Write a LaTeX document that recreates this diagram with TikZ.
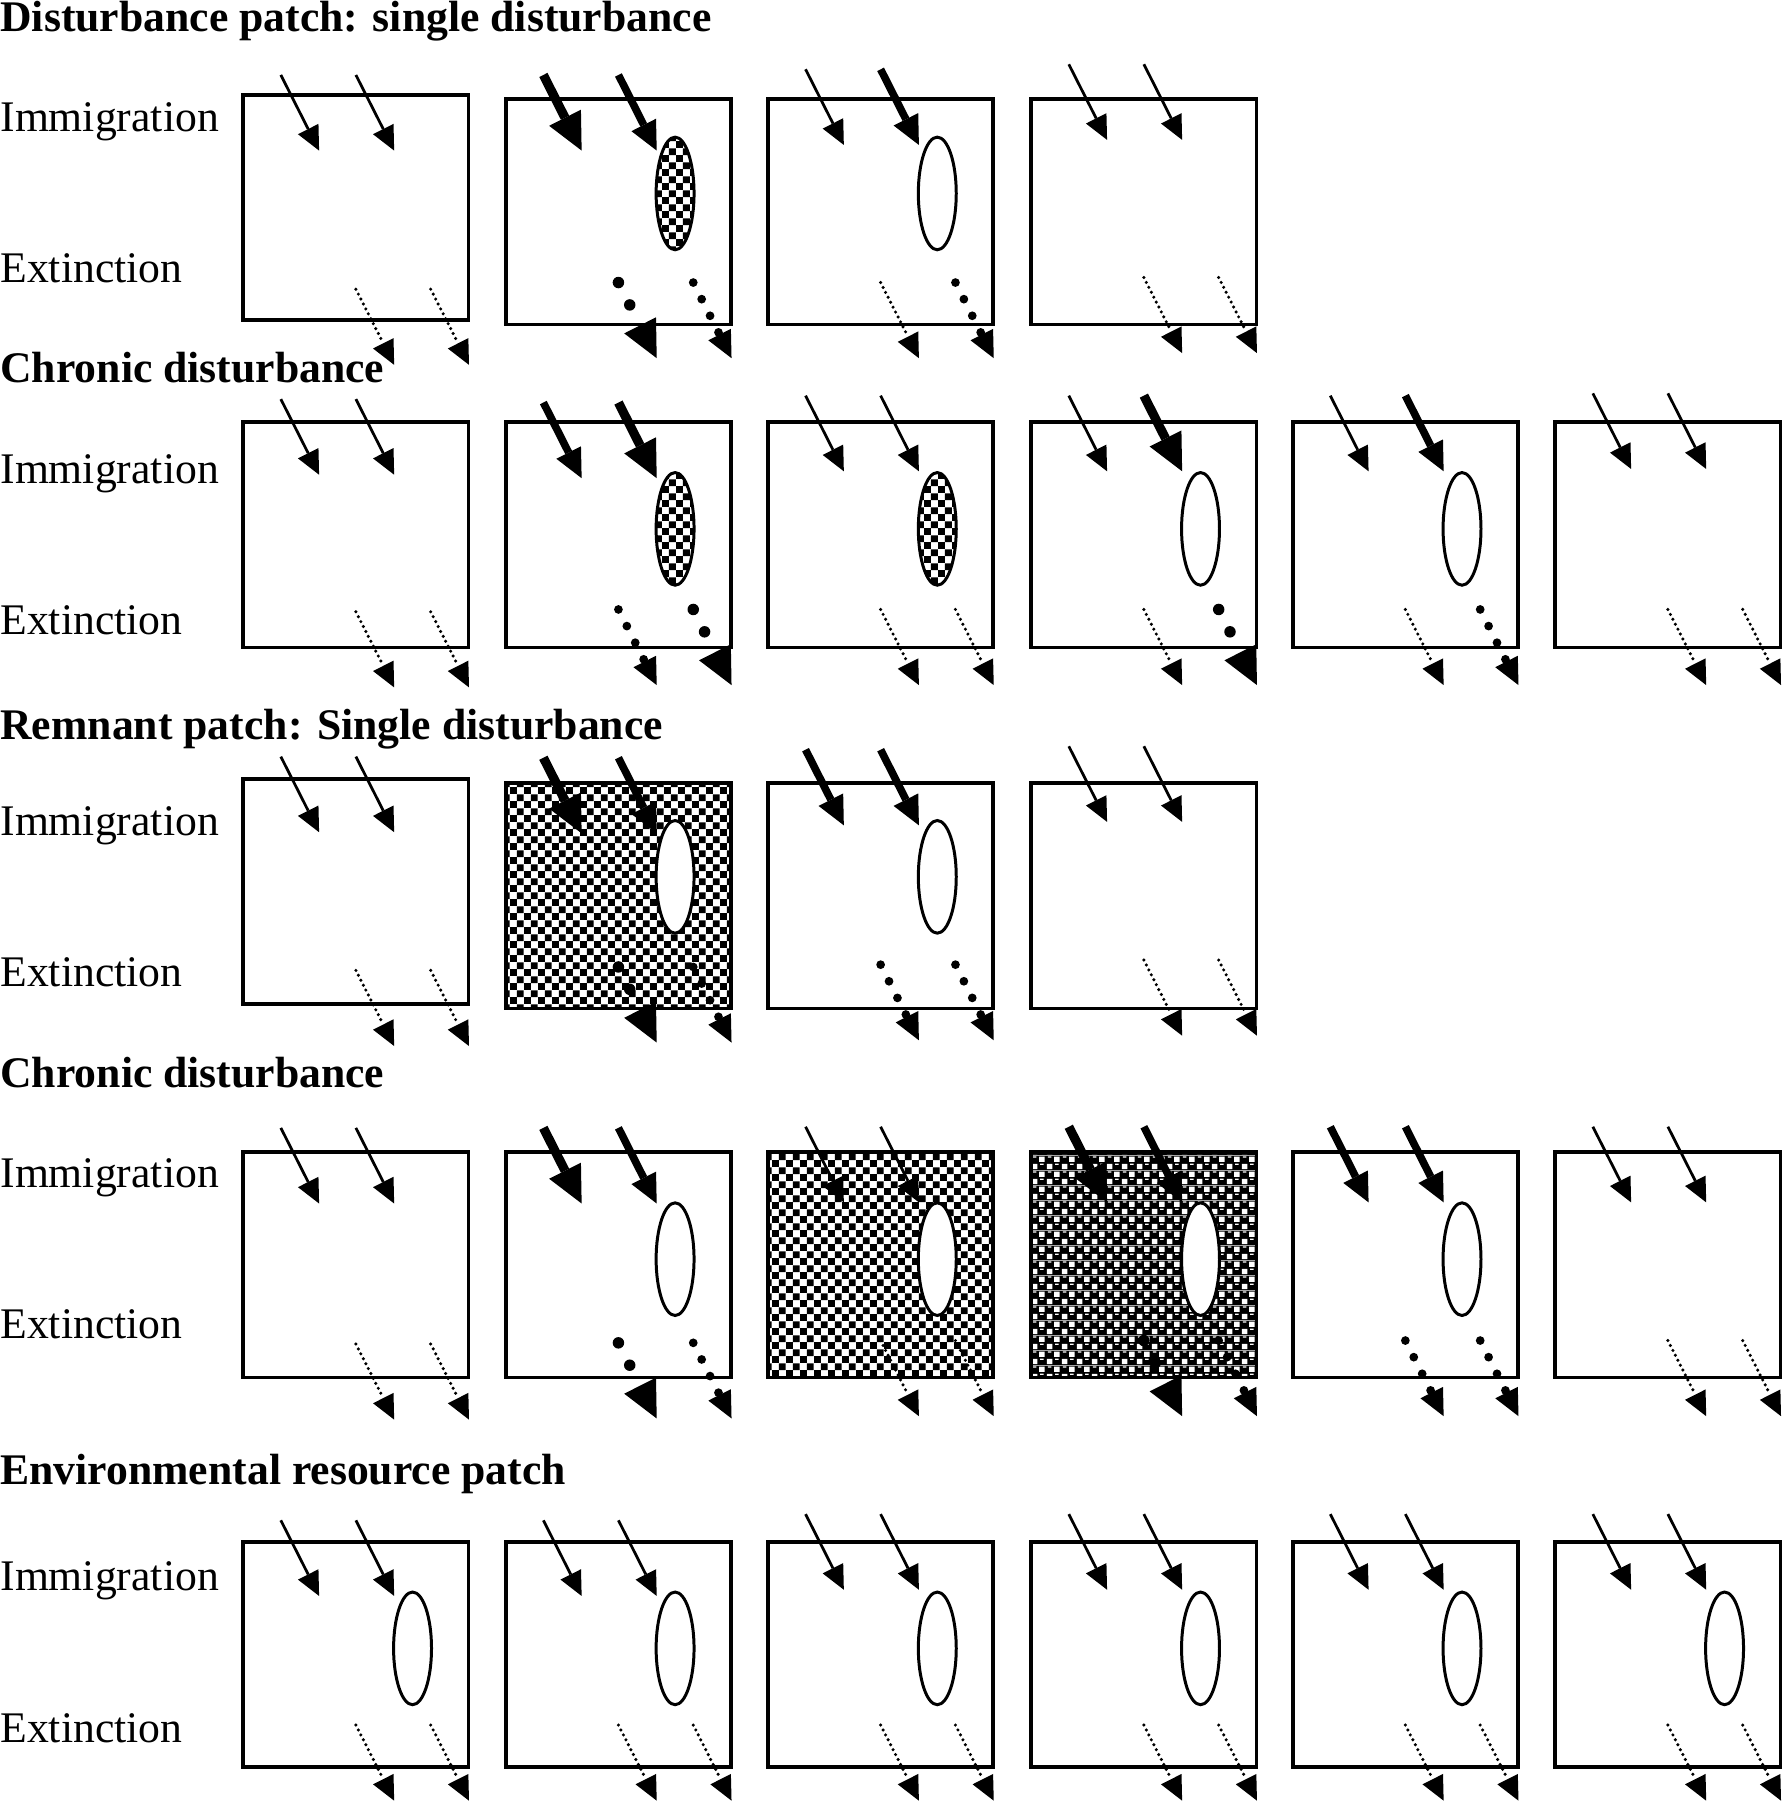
\documentclass[tikz,border=0pt]{standalone}
\usepackage{fontspec}
\setmainfont{Liberation Serif}
\usetikzlibrary{arrows.meta,calc,patterns,shapes.geometric}

\pgfdeclarepatternformonly{chk}{\pgfqpoint{0pt}{0pt}}{\pgfqpoint{6pt}{6pt}}{\pgfqpoint{6pt}{6pt}}{%
  \pgfpathrectangle{\pgfqpoint{0pt}{0pt}}{\pgfqpoint{3pt}{3pt}}%
  \pgfpathrectangle{\pgfqpoint{3pt}{3pt}}{\pgfqpoint{3pt}{3pt}}%
  \pgfusepath{fill}}

\pgfdeclarepatterninherentlycolored{coarse}{\pgfqpoint{0pt}{0pt}}{\pgfqpoint{6.6pt}{6.6pt}}{\pgfqpoint{6.6pt}{6.6pt}}{%
  \pgfsetfillcolor{black}%
  \pgfpathrectangle{\pgfqpoint{0pt}{0pt}}{\pgfqpoint{6.6pt}{6.6pt}}\pgfusepath{fill}%
  \pgfsetfillcolor{white}%
  \pgfpathrectangle{\pgfqpoint{0.4pt}{0.45pt}}{\pgfqpoint{2.5pt}{2.4pt}}%
  \pgfpathrectangle{\pgfqpoint{3.7pt}{3.75pt}}{\pgfqpoint{2.5pt}{2.4pt}}%
  \pgfpathrectangle{\pgfqpoint{4.15pt}{2.35pt}}{\pgfqpoint{1.6pt}{0.6pt}}%
  \pgfpathrectangle{\pgfqpoint{0.85pt}{5.65pt}}{\pgfqpoint{1.6pt}{0.6pt}}%
  \pgfusepath{fill}}

\tikzset{
  patchbox/.style={draw, line width=1.6pt, minimum size=98pt, inner sep=0pt, outer sep=0pt},
  chkfill/.style={preaction={fill=white}, pattern=chk},
  coarsefill/.style={pattern=coarse},
  wellipse/.style={ellipse, draw, line width=1.3pt, minimum width=16.5pt, minimum height=49pt, inner sep=0pt, fill=white},
  cellipse/.style={ellipse, draw, line width=1.3pt, minimum width=16.5pt, minimum height=49pt, inner sep=0pt, preaction={fill=white}, pattern=chk},
  immthin/.style={line width=1.2pt, -{Triangle[length=10.5pt,width=10pt,line width=0pt]}},
  immthickA/.style={line width=4pt, -{Triangle[length=16pt,width=15.5pt,line width=0pt]}},
  immthickB/.style={line width=3.3pt, -{Triangle[length=12.5pt,width=12pt,line width=0pt]}},
  extdots/.style={line width=1.5pt, line cap=round, dash pattern=on 0pt off 2.4pt, -{Triangle[length=10.5pt,width=10pt,line width=0pt]}},
  extmed/.style={line width=3.8pt, line cap=round, dash pattern=on 0pt off 8.1pt, -{Triangle[length=11.5pt,width=11pt,line width=0pt]}},
  extbig/.style={line width=5pt, line cap=round, dash pattern=on 0pt off 10.9pt, -{Triangle[length=16pt,width=15.5pt,line width=0pt]}},
  lab/.style={anchor=base west, inner sep=0pt, font=\fontsize{19pt}{22pt}\selectfont},
  ttl/.style={anchor=base west, inner sep=0pt, font=\fontsize{19pt}{22pt}\selectfont\bfseries},
}

% box: name, left, top, fill style
\newcommand\Cell[4]{\node[patchbox,#4] (#1) at ({#2+98},{#3+98}) {};}
% immigration arrows: name, left, tip y, style 1, style 2
\newcommand\Imm[5]{%
  \coordinate (#1-iae) at ({#2+66},#3);
  \coordinate (#1-ias) at ($(#1-iae)+(-33.3,-65.8)$);
  \coordinate (#1-ibe) at ({#2+131.3},#3);
  \coordinate (#1-ibs) at ($(#1-ibe)+(-33.3,-65.8)$);
  \draw[#4] (#1-ias) -- (#1-iae);
  \draw[#5] (#1-ibs) -- (#1-ibe);}
% extinction arrows: name, left, tip y, style 1, style 2
\newcommand\Ext[5]{%
  \coordinate (#1-eae) at ({#2+131.3},#3);
  \coordinate (#1-eas) at ($(#1-eae)+(-33.3,-65.8)$);
  \coordinate (#1-ebe) at ({#2+196.4},#3);
  \coordinate (#1-ebs) at ($(#1-ebe)+(-33.3,-65.8)$);
  \draw[#4] (#1-eas) -- (#1-eae);
  \draw[#5] (#1-ebs) -- (#1-ebe);}
% ellipse: name, left, centre y, style
\newcommand\Ell[4]{\node[#4] (#1-el) at ({#2+147.3},#3) {};}

\begin{document}
\begin{tikzpicture}[x=0.5pt,y=-0.5pt]
\useasboundingbox (0,0) rectangle (1552,1569.4);
\fill[white] (0,0) rectangle (1552,1569.4);

% ---------- labels ----------
\node[ttl] (t1) at (0,27.5) {Disturbance patch: single disturbance};
\node[ttl] (t2) at (0,333) {Chronic disturbance};
\node[ttl] (t3) at (0,643) {Remnant patch: Single disturbance};
\node[ttl] (t4) at (0,946) {Chronic disturbance};
\node[ttl] (t5) at (0,1291.3) {Environmental resource patch};

\node[lab] (im1) at (0,114.5) {Immigration};
\node[lab] (ex1) at (0,245.8) {Extinction};
\node[lab] (im2) at (0,421) {Immigration};
\node[lab] (ex2) at (0,552) {Extinction};
\node[lab] (im3) at (0,727) {Immigration};
\node[lab] (ex3) at (0,858) {Extinction};
\node[lab] (im4) at (0,1033) {Immigration};
\node[lab] (ex4) at (0,1164) {Extinction};
\node[lab] (im5) at (0,1384) {Immigration};
\node[lab] (ex5) at (0,1516) {Extinction};

% ---------- row 1 ----------
\Cell{a1}{211.6}{82.6}{}
\Imm{a1}{211.6}{131}{immthin}{immthin}
\Ext{a1}{211.6}{317.4}{extdots}{extdots}

\Cell{a2}{440}{86.4}{}
\Ell{a2}{440}{168.3}{cellipse}
\Imm{a2}{440}{131}{immthickA}{immthickB}
\Ext{a2}{440}{311.6}{extbig}{extmed}

\Cell{a3}{668.1}{86.4}{}
\Ell{a3}{668.1}{168.3}{wellipse}
\Imm{a3}{668.1}{126.1}{immthin}{immthickB}
\Ext{a3}{668.1}{311.6}{extdots}{extmed}

\Cell{a4}{897.1}{86.4}{}
\Imm{a4}{897.1}{121.7}{immthin}{immthin}
\Ext{a4}{897.1}{307.2}{extdots}{extdots}

% ---------- row 2 ----------
\Cell{b1}{211.6}{367.2}{}
\Imm{b1}{211.6}{413}{immthin}{immthin}
\Ext{b1}{211.6}{598}{extdots}{extdots}

\Cell{b2}{440}{367.2}{}
\Ell{b2}{440}{460.1}{cellipse}
\Imm{b2}{440}{416}{immthickB}{immthickA}
\Ext{b2}{440}{596}{extmed}{extbig}

\Cell{b3}{668.1}{367.2}{}
\Ell{b3}{668.1}{460.1}{cellipse}
\Imm{b3}{668.1}{410}{immthin}{immthin}
\Ext{b3}{668.1}{596}{extdots}{extdots}

\Cell{b4}{897.1}{367.2}{}
\Ell{b4}{897.1}{460.1}{wellipse}
\Imm{b4}{897.1}{410}{immthin}{immthickA}
\Ext{b4}{897.1}{596}{extdots}{extbig}

\Cell{b5}{1124.6}{367.2}{}
\Ell{b5}{1124.6}{460.1}{wellipse}
\Imm{b5}{1124.6}{410}{immthin}{immthickB}
\Ext{b5}{1124.6}{596}{extdots}{extmed}

\Cell{b6}{1353}{367.2}{}
\Imm{b6}{1353}{408}{immthin}{immthin}
\Ext{b6}{1353}{596}{extdots}{extdots}

% ---------- row 3 ----------
\Cell{c1}{211.6}{677.5}{}
\Imm{c1}{211.6}{724}{immthin}{immthin}
\Ext{c1}{211.6}{910}{extdots}{extdots}

\Cell{c2}{440}{681.2}{chkfill}
\Ell{c2}{440}{762.8}{wellipse}
\Imm{c2}{440}{725}{immthickA}{immthickB}
\Ext{c2}{440}{907}{extbig}{extmed}

\Cell{c3}{668.1}{681.2}{}
\Ell{c3}{668.1}{762.8}{wellipse}
\Imm{c3}{668.1}{718}{immthickB}{immthickB}
\Ext{c3}{668.1}{905}{extmed}{extmed}

\Cell{c4}{897.1}{681.2}{}
\Imm{c4}{897.1}{715}{immthin}{immthin}
\Ext{c4}{897.1}{901}{extdots}{extdots}

% ---------- row 4 ----------
\Cell{d1}{211.6}{1002.3}{}
\Imm{d1}{211.6}{1047}{immthin}{immthin}
\Ext{d1}{211.6}{1235}{extdots}{extdots}

\Cell{d2}{440}{1002.3}{}
\Ell{d2}{440}{1095.4}{wellipse}
\Imm{d2}{440}{1047}{immthickA}{immthickB}
\Ext{d2}{440}{1234}{extbig}{extmed}

\Cell{d3}{668.1}{1002.3}{chkfill}
\Ell{d3}{668.1}{1095.4}{wellipse}
\Imm{d3}{668.1}{1046}{immthin}{immthin}
\Ext{d3}{668.1}{1232}{extdots}{extdots}

\Cell{d4}{897.1}{1002.3}{coarsefill}
\Ell{d4}{897.1}{1095.4}{wellipse}
\Imm{d4}{897.1}{1046}{immthickA}{immthickB}
\Ext{d4}{897.1}{1232}{extbig}{extmed}

\Cell{d5}{1124.6}{1002.3}{}
\Ell{d5}{1124.6}{1095.4}{wellipse}
\Imm{d5}{1124.6}{1046}{immthickB}{immthickB}
\Ext{d5}{1124.6}{1232}{extmed}{extmed}

\Cell{d6}{1353}{1002.3}{}
\Imm{d6}{1353}{1046}{immthin}{immthin}
\Ext{d6}{1353}{1232}{extdots}{extdots}

% ---------- row 5 ----------
\Cell{e1}{211.6}{1341.4}{}
\Ell{e1}{211.6}{1434}{wellipse}
\Imm{e1}{211.6}{1388.4}{immthin}{immthin}
\Ext{e1}{211.6}{1566.5}{extdots}{extdots}

\Cell{e2}{440}{1341.4}{}
\Ell{e2}{440}{1434}{wellipse}
\Imm{e2}{440}{1388.4}{immthin}{immthin}
\Ext{e2}{440}{1566.5}{extdots}{extdots}

\Cell{e3}{668.1}{1341.4}{}
\Ell{e3}{668.1}{1434}{wellipse}
\Imm{e3}{668.1}{1383}{immthin}{immthin}
\Ext{e3}{668.1}{1566.5}{extdots}{extdots}

\Cell{e4}{897.1}{1341.4}{}
\Ell{e4}{897.1}{1434}{wellipse}
\Imm{e4}{897.1}{1383}{immthin}{immthin}
\Ext{e4}{897.1}{1566.5}{extdots}{extdots}

\Cell{e5}{1124.6}{1341.4}{}
\Ell{e5}{1124.6}{1434}{wellipse}
\Imm{e5}{1124.6}{1383}{immthin}{immthin}
\Ext{e5}{1124.6}{1566.5}{extdots}{extdots}

\Cell{e6}{1353}{1341.4}{}
\Ell{e6}{1353}{1434}{wellipse}
\Imm{e6}{1353}{1383}{immthin}{immthin}
\Ext{e6}{1353}{1566.5}{extdots}{extdots}

\end{tikzpicture}
\end{document}
